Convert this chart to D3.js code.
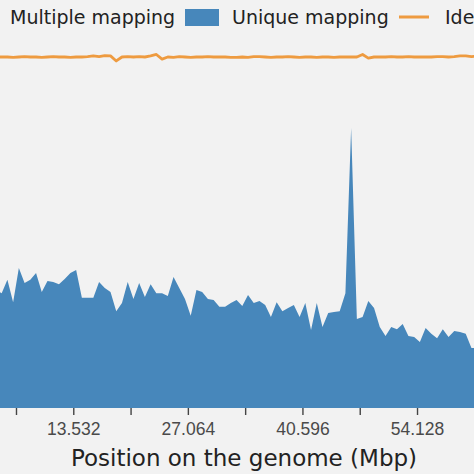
<!DOCTYPE html>
<html>
<head>
  <meta charset="utf-8">
  <style>
    html, body { margin: 0; padding: 0; background: #f2f2f2; overflow: hidden; }
    svg { display: block; font-family: "DejaVu Sans", sans-serif; }
    svg .tick line { stroke: #444; stroke-width: 1.4px; }
    svg .tick text { font-size: 17.5px; fill: #4a4a4a; }
    svg .legend text { font-size: 19px; fill: #222; }
  </style>
</head>
<body>
<script src="https://d3js.org/d3.v7.min.js"></script>
<script>
  // genome split in bins of 0.6766 Mbp, values per bin (first visible bin = 6)
  var binSize = 0.6766;
  var firstBin = 6;

  // unique mapping coverage (%)
  var unique = [
    32.8, 31.9, 35.6, 29.4, 38.9, 34.7, 35.6, 37.5, 32.2, 35.3,
    35.0, 34.4, 35.8, 37.5, 38.3, 30.6, 30.6, 30.6, 35.0, 33.3,
    32.2, 26.9, 29.2, 35.0, 30.3, 34.7, 30.8, 34.4, 31.9, 31.9,
    31.1, 36.4, 33.3, 30.3, 25.6, 32.8, 32.2, 30.3, 30.0, 28.1,
    28.1, 29.2, 30.0, 28.3, 31.4, 29.2, 29.7, 28.6, 25.3, 29.4,
    26.9, 27.8, 28.6, 25.3, 29.2, 21.7, 29.2, 22.5, 26.4, 26.7,
    26.9, 31.9, 77.8, 24.7, 25.3, 29.7, 27.8, 22.5, 20.0, 22.5,
    21.9, 23.3, 20.0, 19.7, 18.3, 22.2, 20.6, 19.4, 21.9, 19.7,
    21.4, 21.1, 20.6, 16.7, 16.7, 16.1
  ];

  // identity (%)
  var identity = [
    97.5, 97.5, 97.5, 97.4, 97.5, 97.6, 97.5, 97.5, 97.4, 97.5,
    97.6, 97.5, 97.5, 97.4, 97.5, 97.5, 97.6, 97.8, 97.6, 97.9,
    97.8, 96.4, 97.5, 97.6, 97.5, 97.6, 97.5, 97.8, 98.2, 96.9,
    97.5, 97.4, 97.6, 97.5, 97.4, 97.5, 97.5, 97.6, 97.5, 97.5,
    97.5, 97.4, 97.4, 97.5, 97.4, 97.6, 97.6, 97.5, 97.4, 97.5,
    97.5, 97.6, 97.5, 97.4, 97.5, 97.5, 97.4, 97.5, 97.5, 97.4,
    97.5, 97.5, 97.5, 97.5, 98.2, 97.2, 97.5, 97.5, 97.5, 97.6,
    97.5, 97.5, 97.6, 97.5, 97.5, 97.5, 97.5, 97.6, 97.6, 97.5,
    97.6, 97.8, 97.8, 97.6, 97.8, 97.8
  ];

  var tickValues = [6.766, 13.532, 20.298, 27.064, 33.830, 40.596, 47.362, 54.128, 60.894];
  var labelledTicks = [13.532, 27.064, 40.596, 54.128];

  var legendItems = ["Multiple mapping", "Unique mapping", "Identity"];

  var W = 474, H = 474;
  var blue = "#4787bb", orange = "#ee9b40";

  var svg = d3.select("body").append("svg")
      .attr("width", W)
      .attr("height", H);

  // scales (plot area runs past the picture on both sides)
  var x = d3.scaleLinear().domain([0, 67.66]).range([-41.3, 531.6]);
  var y = d3.scaleLinear().domain([0, 100]).range([408, 48]);

  var pts = unique.map(function (v, i) {
    return { pos: (firstBin + i + 0.5) * binSize, u: v, id: identity[i] };
  });

  // unique mapping area
  var area = d3.area()
      .x(function (d) { return x(d.pos); })
      .y0(y(0))
      .y1(function (d) { return y(d.u); });

  svg.append("path")
      .attr("d", area(pts))
      .style("fill", blue)
      .style("stroke", "none");

  // identity line
  var line = d3.line()
      .x(function (d) { return x(d.pos); })
      .y(function (d) { return y(d.id); });

  svg.append("path")
      .attr("d", line(pts))
      .style("fill", "none")
      .style("stroke", orange)
      .style("stroke-width", "2.8px")
      .style("stroke-linejoin", "round");

  // x axis
  var xAxis = d3.axisBottom(x)
      .tickValues(tickValues)
      .tickSize(7)
      .tickSizeOuter(0)
      .tickPadding(8)
      .tickFormat(function (d) {
        return labelledTicks.indexOf(d) >= 0 ? d3.format(".3f")(d) : "";
      });

  var gx = svg.append("g")
      .attr("transform", "translate(0," + y(0) + ")")
      .call(xAxis);
  gx.select(".domain").remove();

  svg.append("text")
      .attr("x", 244)
      .attr("y", 466)
      .style("text-anchor", "middle")
      .style("font-size", "23px")
      .style("fill", "#222")
      .text("Position on the genome (Mbp)");

  // legend (first patch and last label run past the picture edge, as in the source)
  var lg = svg.append("g").classed("legend", true);

  lg.append("rect")
      .attr("x", -37).attr("y", 9)
      .attr("width", 34).attr("height", 17)
      .style("fill", "#9ecae1");
  lg.append("text").attr("x", 10).attr("y", 24).text(legendItems[0]);

  lg.append("rect")
      .attr("x", 185).attr("y", 9)
      .attr("width", 34).attr("height", 17)
      .style("fill", blue);
  lg.append("text").attr("x", 232).attr("y", 24).text(legendItems[1]);

  lg.append("line")
      .attr("x1", 399).attr("x2", 429)
      .attr("y1", 17).attr("y2", 17)
      .style("stroke", orange)
      .style("stroke-width", "3px");
  lg.append("text").attr("x", 445).attr("y", 24).text(legendItems[2]);
</script>
</body>
</html>
